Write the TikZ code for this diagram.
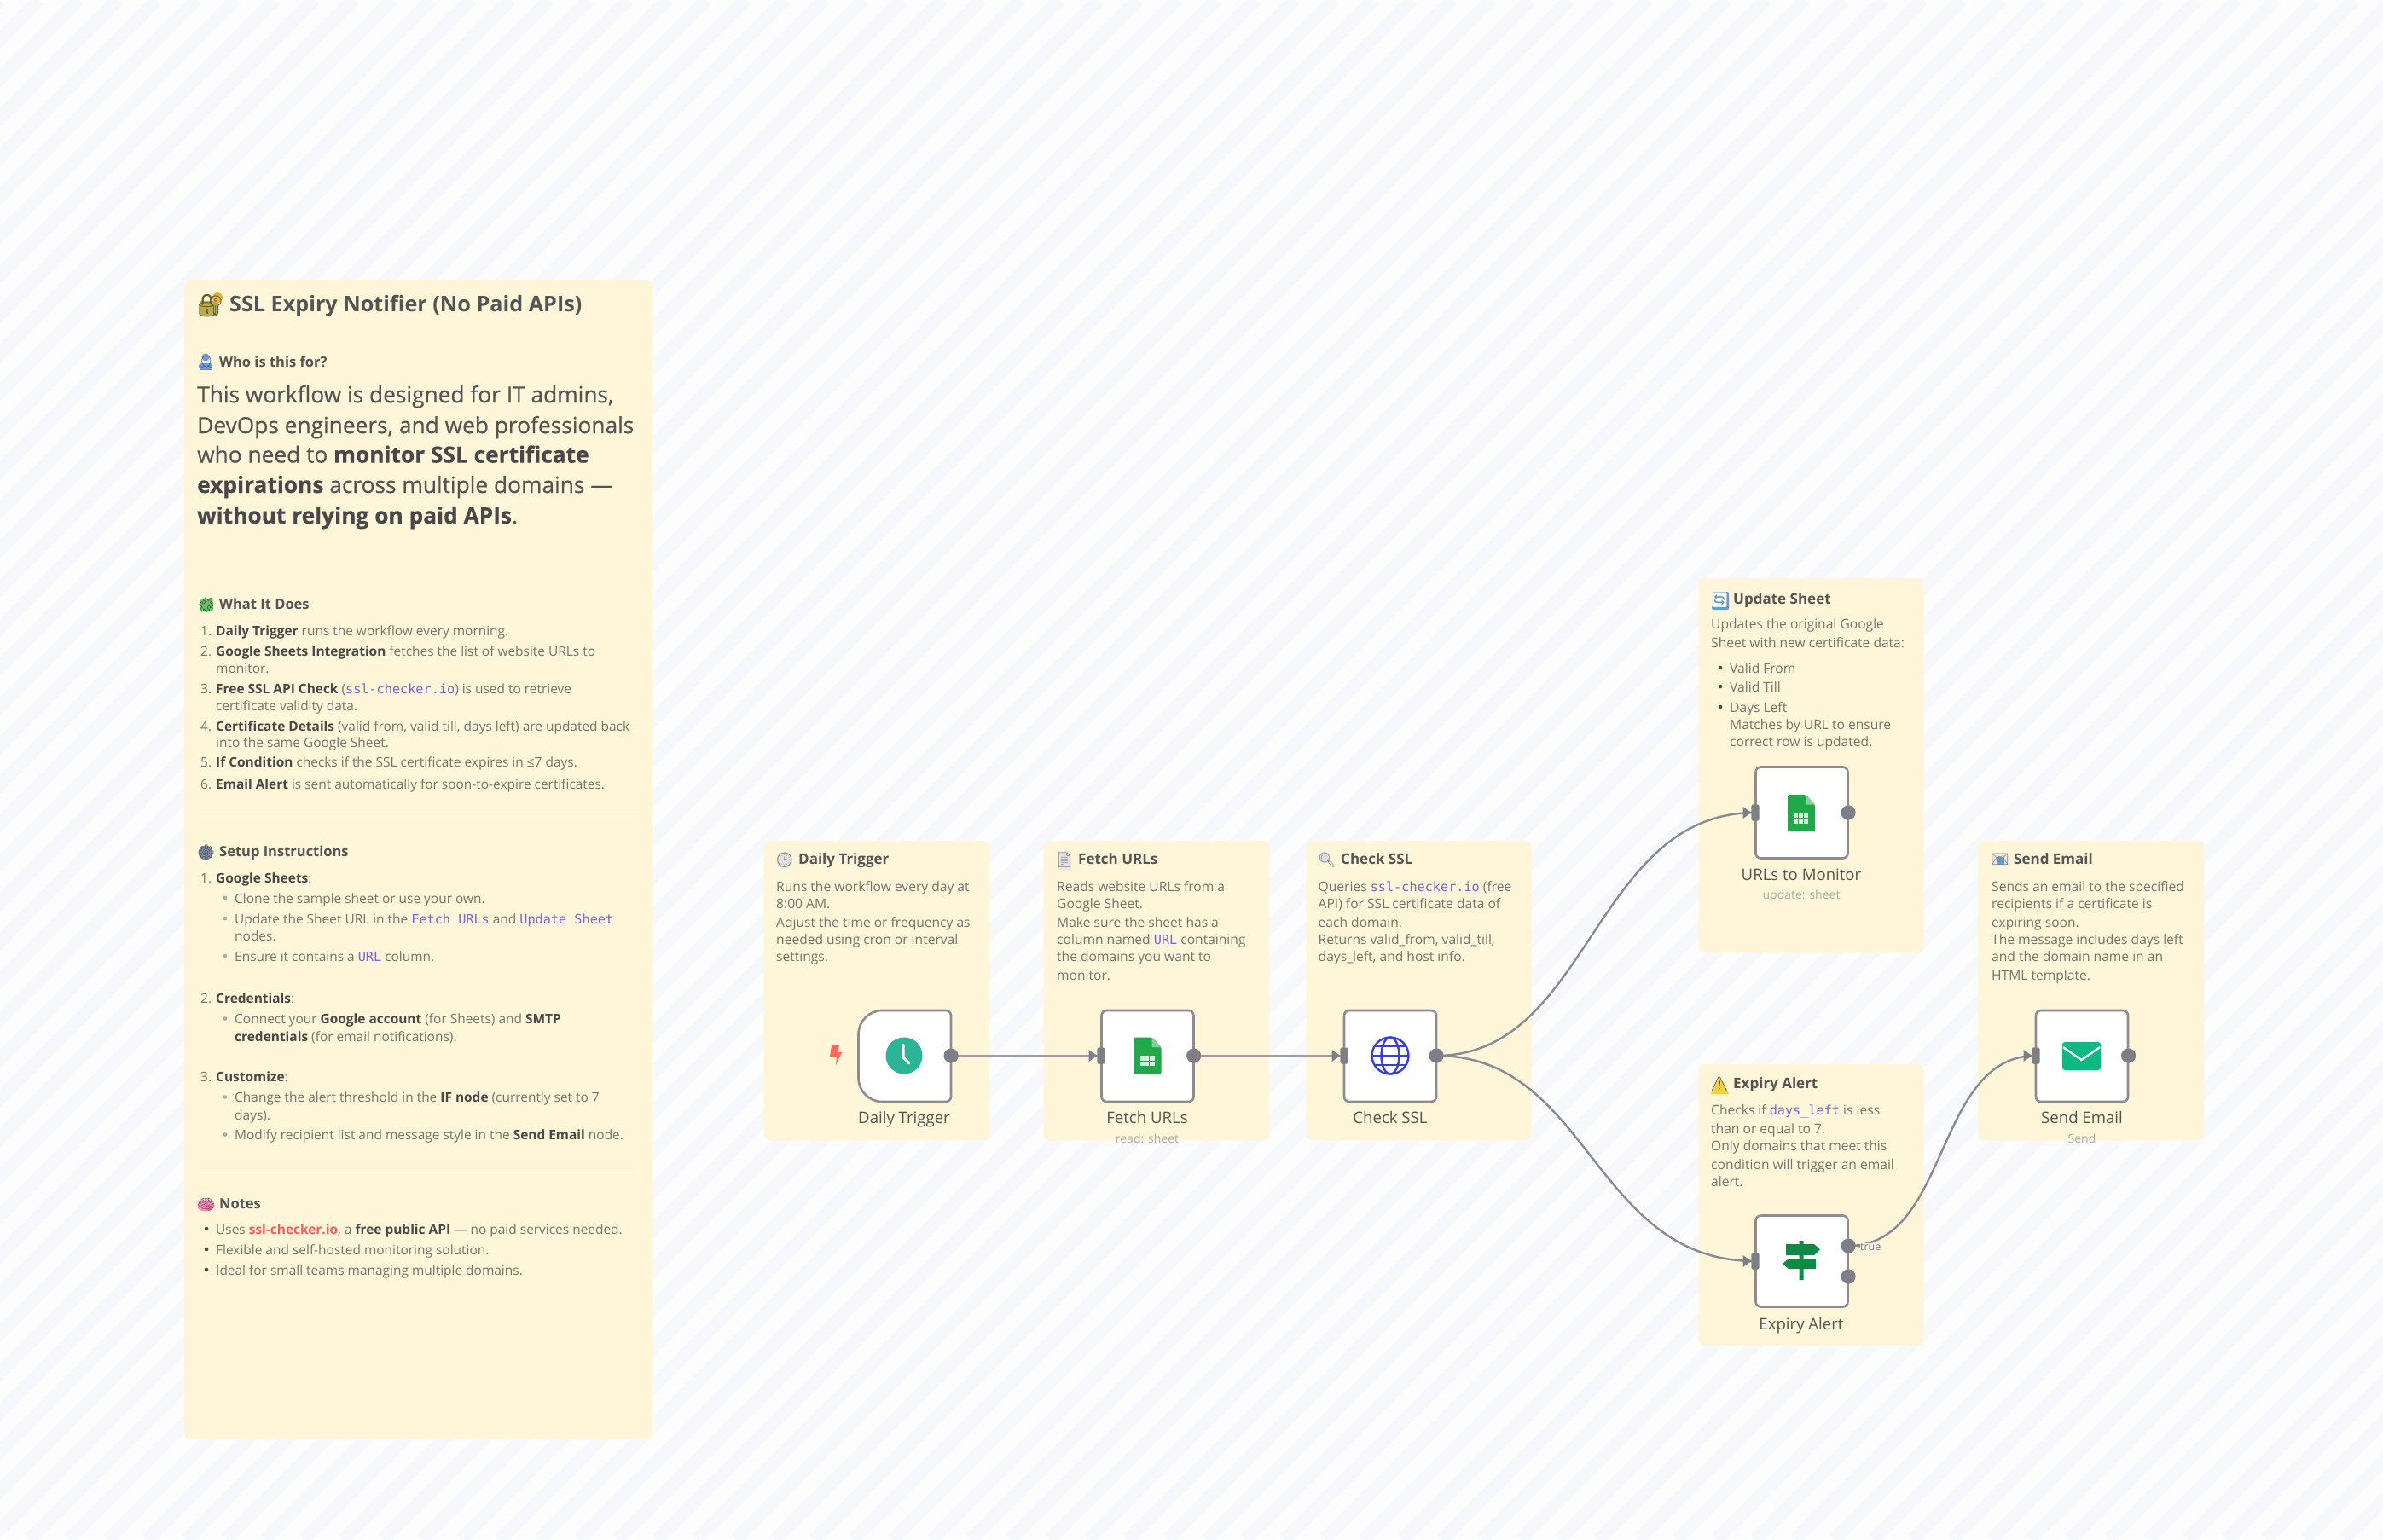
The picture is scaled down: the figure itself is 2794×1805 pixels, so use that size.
\documentclass[tikz,border=0pt]{standalone}
\usepackage{fontspec}
\setmainfont{Open Sans}
\setmonofont{DejaVu Sans Mono}
\newfontfamily\emo{Noto Emoji}
\newfontfamily\bigf[FakeBold=0.4]{Open Sans}
\definecolor{panelc}{HTML}{FFF5D9}
\definecolor{hrc}{HTML}{FBF1D5}
\definecolor{basec}{HTML}{FDFDFE}
\definecolor{stripec}{HTML}{F7F8FB}
\definecolor{linec}{HTML}{9C9CA2}
\definecolor{curvec}{HTML}{8A8A92}
\definecolor{dotc}{HTML}{7E7E86}
\definecolor{boxc}{HTML}{8C8C92}
\definecolor{headc}{HTML}{545454}
\definecolor{bodyc}{HTML}{74746E}
\definecolor{boldc}{HTML}{484848}
\definecolor{codec}{HTML}{7F66CC}
\definecolor{subc}{HTML}{ABABA8}
\definecolor{sheetc}{HTML}{20A849}
\definecolor{globec}{HTML}{3A3FD6}
\definecolor{signc}{HTML}{0F8A46}
\definecolor{mailc}{HTML}{0EB881}
\definecolor{clockc}{HTML}{2BB596}
\definecolor{boltc}{HTML}{FF6B5B}
\definecolor{lockc}{HTML}{BDAA52}
\definecolor{keyc}{HTML}{E3B23C}
\definecolor{userc}{HTML}{6D9FCF}
\definecolor{puzzc}{HTML}{72B872}
\definecolor{gearc}{HTML}{8290A6}
\definecolor{brainc}{HTML}{EE8FB0}
\definecolor{syncc}{HTML}{6E9CC0}
\definecolor{warnc}{HTML}{F7CE3E}
\newcounter{tln}
\newcommand{\tl}[4]{\stepcounter{tln}\node[#1,name=tx\arabic{tln}] at (#2,{#3+2.3}) {\rule[-.25em]{0pt}{1em}#4};}
\newcommand{\cod}[1]{{\fontsize{15.2}{15.2}\selectfont\ttfamily\color{codec}#1}}
\newcommand{\B}[1]{{\bfseries\color{boldc}#1}}
\newcommand{\sheeticon}[2]{%
  \fill[sheetc,rounded corners=2] (#1-16,#2-21.5) -- (#1+5,#2-21.5) -- (#1+16,#2-10) -- (#1+16,#2+21.5) -- (#1-16,#2+21.5) -- cycle;
  \fill[sheetc!55!white] (#1+5,#2-21.5) -- (#1+16,#2-10) -- (#1+5,#2-10) -- cycle;
  \fill[white!85!sheetc] (#1-9,#2+0) rectangle (#1+8,#2+12);
  \draw[sheetc,line width=.8] (#1-3.3,#2) -- (#1-3.3,#2+12) (#1+2.3,#2) -- (#1+2.3,#2+12) (#1-9,#2+6) -- (#1+8,#2+6);
}
\tikzset{
  panel/.style={fill=panelc,draw=none,rounded corners=7,inner sep=0},
  nbox/.style={fill=white,draw=boxc,line width=2.6,rounded corners=6,minimum width=108,minimum height=107,inner sep=0},
  conn/.style={draw=linec,line width=3},
  curve/.style={draw=curvec,line width=2.4},
  outdot/.style={circle,fill=dotc,draw=none,minimum size=17,inner sep=0},
  inrect/.style={fill=dotc,draw=none,rounded corners=1.5,minimum width=9,minimum height=19,inner sep=0},
  title/.style={anchor=west,inner sep=0,text=headc,font=\fontsize{25.2}{25.2}\selectfont\bfseries},
  sect/.style={anchor=west,inner sep=0,text=headc,font=\fontsize{16.5}{16.5}\selectfont\bfseries},
  big/.style={anchor=west,inner sep=0,text=headc,font=\fontsize{26.3}{26.3}\selectfont\bigf},
  small/.style={anchor=west,inner sep=0,text=bodyc,font=\fontsize{15.45}{15.45}\selectfont},
  ptitle/.style={anchor=west,inner sep=0,text=headc,font=\fontsize{17}{17}\selectfont\bfseries},
  pbody/.style={anchor=west,inner sep=0,text=bodyc,font=\fontsize{15.6}{15.6}\selectfont},
  nlabel/.style={anchor=center,inner sep=0,text=headc,font=\fontsize{18.6}{18.6}\selectfont},
  nsub/.style={anchor=center,inner sep=0,text=subc,font=\fontsize{14}{14}\selectfont},
  emoji/.style={anchor=west,inner sep=0,font=\fontsize{#1}{#1}\selectfont\emo},
  bul/.style={circle,fill=#1,draw=none,minimum size=4.6,inner sep=0},
}
\begin{document}
\begin{tikzpicture}[x=1pt,y=-1pt]
\useasboundingbox (0,0) rectangle (2794,1805);
\fill[basec] (0,0) rectangle (2794,1805);
\begin{scope}
\clip (0,0) rectangle (2794,1805);
\foreach \i in {-1,...,100} {
  \draw[stripec,line width=15] ({\i*46},0) -- ({\i*46-1805},1805);
}
\end{scope}
% panels
\node[panel,minimum width=549,minimum height=1360] (pmain) at (490.5,1008) {};
\node[panel,minimum width=264.5,minimum height=351] (pdt) at (1028,1161.5) {};
\node[panel,minimum width=264.5,minimum height=351] (pfu) at (1356,1161.5) {};
\node[panel,minimum width=264,minimum height=351] (pck) at (1663.5,1161.5) {};
\node[panel,minimum width=264,minimum height=439] (pup) at (2123.5,897.5) {};
\node[panel,minimum width=264,minimum height=330] (pex) at (2123.5,1413) {};
\node[panel,minimum width=265,minimum height=351] (pse) at (2451.5,1161.5) {};
% icon underlays
\fill[rounded corners=2,lockc] (234,353) rectangle (256,370);
\fill[keyc] (255,349) circle (6);
\fill[userc] (241,419) circle (4.5);
\fill[userc,rounded corners=3] (233,433) rectangle (249,426);
\fill[puzzc,rounded corners=3] (234,703) rectangle (250,717);
\fill[gearc] (241,1000) circle (8.5);
\fill[brainc] (241,1414) ellipse (9.5 and 6.5);
\fill[gray!22] (920,1009) circle (9.5);
\fill[gray!20] (1241,998) -- (1252,998) -- (1256,1004) -- (1256,1020) -- (1241,1020) -- cycle;
\fill[gray!25] (1553,1006) circle (6.5);
\fill[rounded corners=2,syncc] (2007,694) rectangle (2027,715);
\fill[warnc] (2016,1263) -- (2027,1283) -- (2006,1283) -- cycle;
\fill[gray!18] (2336,1003) rectangle (2356,1016);
\fill[userc] (2342,1005) rectangle (2350,1014);
% main panel text
\tl{emoji=26,text=olive!60!black}{230}{357}{🔐}
\tl{title}{269}{357}{SSL Expiry Notifier (No Paid APIs)}
\tl{emoji=17,text=blue!50!gray}{231}{424}{👤}
\tl{sect}{257}{424}{Who is this for?}
\tl{big}{231}{463}{This workflow is designed for IT admins,}
\tl{big}{231}{499}{DevOps engineers, and web professionals}
\tl{big}{231}{533.5}{who need to \textbf{\color{boldc}monitor SSL certificate}}
\tl{big}{231}{569}{\textbf{\color{boldc}expirations} across multiple domains —}
\tl{big}{231}{605}{\textbf{\color{boldc}without relying on paid APIs}.}
\tl{emoji=17,text=green!35!black}{231}{708}{🧩}
\tl{sect}{257}{708}{What It Does}
\tl{small}{235}{739}{1.}
\tl{small}{253}{739}{\B{Daily Trigger} runs the workflow every morning.}
\tl{small}{235}{763}{2.}
\tl{small}{253}{763}{\B{Google Sheets Integration} fetches the list of website URLs to}
\tl{small}{253}{783}{monitor.}
\tl{small}{235}{807}{3.}
\tl{small}{253}{807}{\B{Free SSL API Check} (\cod{ssl-checker.io}) is used to retrieve}
\tl{small}{253}{827}{certificate validity data.}
\tl{small}{235}{851}{4.}
\tl{small}{253}{851}{\B{Certificate Details} (valid from, valid till, days left) are updated back}
\tl{small}{253}{870.5}{into the same Google Sheet.}
\tl{small}{235}{893}{5.}
\tl{small}{253}{893}{\B{If Condition} checks if the SSL certificate expires in ≤7 days.}
\tl{small}{235}{919}{6.}
\tl{small}{253}{919}{\B{Email Alert} is sent automatically for soon-to-expire certificates.}
\draw[hrc,line width=1.5] (232,954) -- (750,954);
\tl{emoji=17,text=gray!60!black}{231}{998}{⚙}
\tl{sect}{257}{998}{Setup Instructions}
\tl{small}{235}{1029}{1.}
\tl{small}{253}{1029}{\B{Google Sheets}:}
\node[bul=subc] (b1) at (264,1053) {};
\tl{small}{275}{1053}{Clone the sample sheet or use your own.}
\node[bul=subc] (b2) at (264,1077) {};
\tl{small}{275}{1077}{Update the Sheet URL in the \cod{Fetch URLs} and \cod{Update Sheet}}
\tl{small}{275}{1097}{nodes.}
\node[bul=subc] (b3) at (264,1121) {};
\tl{small}{275}{1121}{Ensure it contains a \cod{URL} column.}
\tl{small}{235}{1170.5}{2.}
\tl{small}{253}{1170.5}{\B{Credentials}:}
\node[bul=subc] (b4) at (264,1194.5) {};
\tl{small}{275}{1194.5}{Connect your \B{Google account} (for Sheets) and \B{SMTP}}
\tl{small}{275}{1215}{\B{credentials} (for email notifications).}
\tl{small}{235}{1262.5}{3.}
\tl{small}{253}{1262.5}{\B{Customize}:}
\node[bul=subc] (b5) at (264,1286.5) {};
\tl{small}{275}{1286.5}{Change the alert threshold in the \B{IF node} (currently set to 7}
\tl{small}{275}{1307}{days).}
\node[bul=subc] (b6) at (264,1330.5) {};
\tl{small}{275}{1330.5}{Modify recipient list and message style in the \B{Send Email} node.}
\draw[hrc,line width=1.5] (232,1370.5) -- (750,1370.5);
\tl{emoji=17,text=magenta!60!black}{231}{1411.5}{🧠}
\tl{sect}{257}{1411.5}{Notes}
\node[bul=boldc] (n1) at (242,1441) {};
\tl{small}{253}{1441}{Uses {\bfseries\color{red!65!white}ssl-checker.io}, a \B{free public API} — no paid services needed.}
\node[bul=boldc] (n2) at (242,1465) {};
\tl{small}{253}{1465}{Flexible and self-hosted monitoring solution.}
\node[bul=boldc] (n3) at (242,1489) {};
\tl{small}{253}{1489}{Ideal for small teams managing multiple domains.}
% panel text
\tl{emoji=17,text=gray}{909}{1007}{🕒}
\tl{ptitle}{936}{1007}{Daily Trigger}
\tl{pbody}{910}{1039}{Runs the workflow every day at}
\tl{pbody}{910}{1059}{8:00 AM.}
\tl{pbody}{910}{1081}{Adjust the time or frequency as}
\tl{pbody}{910}{1101}{needed using cron or interval}
\tl{pbody}{910}{1121}{settings.}
\tl{emoji=17,text=gray}{1237}{1007}{📄}
\tl{ptitle}{1264}{1007}{Fetch URLs}
\tl{pbody}{1239}{1039}{Reads website URLs from a}
\tl{pbody}{1239}{1059}{Google Sheet.}
\tl{pbody}{1239}{1081}{Make sure the sheet has a}
\tl{pbody}{1239}{1101}{column named \cod{URL} containing}
\tl{pbody}{1239}{1121}{the domains you want to}
\tl{pbody}{1239}{1143}{monitor.}
\tl{emoji=17,text=gray}{1545}{1007}{🔍}
\tl{ptitle}{1572}{1007}{Check SSL}
\tl{pbody}{1545.5}{1039}{Queries \cod{ssl-checker.io} (free}
\tl{pbody}{1545.5}{1059}{API) for SSL certificate data of}
\tl{pbody}{1545.5}{1081}{each domain.}
\tl{pbody}{1545.5}{1101}{Returns valid\_from, valid\_till,}
\tl{pbody}{1545.5}{1121}{days\_left, and host info.}
\tl{emoji=17,text=white}{2005}{702}{🔄}
\tl{ptitle}{2032}{702}{Update Sheet}
\tl{pbody}{2006}{731}{Updates the original Google}
\tl{pbody}{2006}{753}{Sheet with new certificate data:}
\node[bul=boldc] (u1) at (2017,783) {};
\tl{pbody}{2028}{783}{Valid From}
\node[bul=boldc] (u2) at (2017,805) {};
\tl{pbody}{2028}{805}{Valid Till}
\node[bul=boldc] (u3) at (2017,829) {};
\tl{pbody}{2028}{829}{Days Left}
\tl{pbody}{2028}{849}{Matches by URL to ensure}
\tl{pbody}{2028}{869}{correct row is updated.}
\tl{emoji=17,text=black!75!orange}{2005}{1270}{⚠}
\tl{ptitle}{2032}{1270}{Expiry Alert}
\tl{pbody}{2006}{1301}{Checks if \cod{days\_left} is less}
\tl{pbody}{2006}{1323}{than or equal to 7.}
\tl{pbody}{2006}{1343}{Only domains that meet this}
\tl{pbody}{2006}{1365}{condition will trigger an email}
\tl{pbody}{2006}{1385}{alert.}
\tl{emoji=17,text=gray}{2334}{1007}{📧}
\tl{ptitle}{2361}{1007}{Send Email}
\tl{pbody}{2335}{1039}{Sends an email to the specified}
\tl{pbody}{2335}{1059}{recipients if a certificate is}
\tl{pbody}{2335}{1081}{expiring soon.}
\tl{pbody}{2335}{1101}{The message includes days left}
\tl{pbody}{2335}{1121}{and the domain name in an}
\tl{pbody}{2335}{1143}{HTML template.}
% ports (named so that connectors run between them)
\node[outdot] (dtout) at (1115,1238) {};
\node[inrect] (fuin) at (1291,1238) {};
\node[outdot] (fuout) at (1399.5,1238) {};
\node[inrect] (ckin) at (1576,1238) {};
\node[outdot] (ckout) at (1684,1238) {};
\node[inrect] (upin) at (2058,953) {};
\node[outdot] (upout) at (2167,953) {};
\node[inrect] (exin) at (2058,1479) {};
\node[outdot] (extrue) at (2167,1461) {};
\node[outdot] (exfalse) at (2167,1497) {};
\node[inrect] (sein) at (2387,1238) {};
\node[outdot] (seout) at (2495.5,1238) {};
% connectors
\draw[conn] (dtout.center) -- (fuin.center);
\draw[conn] (fuout.center) -- (ckin.center);
\draw[curve] (ckout.center) .. controls +(180,0) and +(-190,0) .. (upin.center);
\draw[curve] (ckout.center) .. controls +(180,0) and +(-190,0) .. (exin.center);
\draw[curve] (extrue.center) .. controls +(120,0) and +(-120,0) .. (sein.center);
% boxes
\draw[fill=white,draw=boxc,line width=2.6] (1060,1185) [rounded corners=6] -- (1115,1185) -- (1115,1292) -- (1060,1292) [rounded corners=28] -- (1006.5,1292) -- (1006.5,1185) -- cycle;
\node[nbox,fill=none,draw=none] (dt) at (1061,1238.5) {};
\node[nbox] (fu) at (1345.5,1238.5) {};
\node[nbox] (ck) at (1630,1238.5) {};
\node[nbox] (up) at (2112.5,953) {};
\node[nbox] (ex) at (2112.5,1479) {};
\node[nbox] (se) at (2441,1238.5) {};
% redraw ports on top
\foreach \q in {1115,1399.5,1684,2495.5} {\fill[dotc] (\q,1238) circle (8.5);}
\fill[dotc] (2167,953) circle (8.5) (2167,1461) circle (8.5) (2167,1497) circle (8.5);
\foreach \x/\y in {1291/1238,1576/1238,2058/953,2058/1479,2387/1238} {
  \fill[dotc,rounded corners=1.5] (\x-4.5,\y-9.5) rectangle (\x+4.5,\y+9.5);
  \fill[dotc] (\x-4.5,\y) -- (\x-14.5,\y-7) -- (\x-14.5,\y+7) -- cycle;
}
% bolt
\fill[boltc] (975,1226) -- (984,1226) -- (982,1234) -- (987,1234) -- (980,1249) -- (981,1239) -- (973,1239) -- cycle;
% icons
\fill[clockc] (1060,1238) circle (21.5);
\draw[white,line width=3,line cap=round] (1059,1225) -- (1059,1240) -- (1066,1247);
\sheeticon{1345.5}{1238}
\sheeticon{2112}{953.5}
\begin{scope}[draw=globec,line width=2.4]
\draw (1630,1238) circle (21.5);
\draw (1630,1238) ellipse (10.5 and 21.5);
\draw (1608.5,1238) -- (1651.5,1238);
\draw (1612,1227) -- (1648,1227) (1612,1249) -- (1648,1249);
\end{scope}
\begin{scope}[fill=signc]
\fill (2094,1459) -- (2127,1459) -- (2134,1465.5) -- (2127,1472) -- (2094,1472) -- cycle;
\fill (2129,1476) -- (2097,1476) -- (2090,1482) -- (2097,1488) -- (2129,1488) -- cycle;
\fill (2109.5,1455) rectangle (2114.5,1459) (2109.5,1472) rectangle (2114.5,1476) (2109.5,1488) rectangle (2114.5,1501);
\end{scope}
\fill[rounded corners=3,mailc] (2418,1222) rectangle (2463,1255);
\draw[white,line width=2.4] (2419,1228) -- (2440.5,1243) -- (2462,1228);
% node labels
\tl{nlabel}{1060}{1310}{Daily Trigger}
\tl{nlabel}{1345}{1310}{Fetch URLs}
\tl{nsub}{1345}{1335}{read: sheet}
\tl{nlabel}{1630}{1310}{Check SSL}
\tl{nlabel}{2112}{1026}{URLs to Monitor}
\tl{nsub}{2112}{1049}{update: sheet}
\tl{nlabel}{2112}{1552}{Expiry Alert}
\tl{nlabel}{2441}{1310}{Send Email}
\tl{nsub}{2441}{1335}{Send}
\node[anchor=west,inner sep=0,fill=panelc,text=codec!50!gray,font=\fontsize{12.5}{12.5}\selectfont] (truelbl) at (2181,1462) {true};
\draw[dotc,line width=1.5] (extrue.east) -- (truelbl.west);
\end{tikzpicture}
\end{document}
